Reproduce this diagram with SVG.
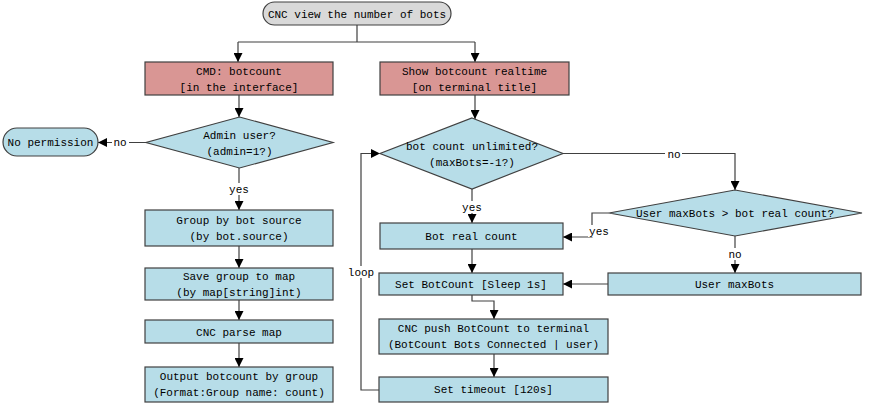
<svg xmlns="http://www.w3.org/2000/svg" width="877" height="405" viewBox="0 0 877 405">
<defs>
<marker id="ah" viewBox="0 0 10 10" refX="10" refY="5" markerWidth="9" markerHeight="9" markerUnits="userSpaceOnUse" orient="auto"><path d="M0,0 L10,5 L0,10 Z" fill="#000"/></marker>
</defs>
<style>
text{font-family:"Liberation Mono","DejaVu Sans Mono",monospace;font-size:11px;fill:#000;text-anchor:middle}
.red{fill:#d99694;stroke:#404040;stroke-width:1.2}
.blue{fill:#b7dde8;stroke:#404040;stroke-width:1.2}
.gray{fill:#d9d9d9;stroke:#404040;stroke-width:1.2}
.c{fill:none;stroke:#404040;stroke-width:1.2}
.a{marker-end:url(#ah)}
.lbl{fill:#fff}
</style>
<rect width="877" height="405" fill="#fff"/>
<g id="connectors">
<path class="c" d="M357,25 V42 M238,42 H475"/>
<path class="c a" d="M238,42 V62"/>
<path class="c a" d="M475,42 V62"/>
<path class="c a" d="M239,95 V117"/>
<path class="c a" d="M146,142.5 H98"/>
<path class="c a" d="M239,168 V210"/>
<path class="c a" d="M239,246 V268"/>
<path class="c a" d="M239,300 V320"/>
<path class="c a" d="M239,343 V367"/>
<path class="c a" d="M475,95 V119"/>
<path class="c a" d="M563,153.5 H735 V190"/>
<path class="c a" d="M472,189 V223"/>
<path class="c a" d="M609,213 H592 V237 H563"/>
<path class="c a" d="M735,236 V273"/>
<path class="c a" d="M472,249 V273"/>
<path class="c a" d="M608,284 H563"/>
<path class="c a" d="M472,295 V301 H494 V319"/>
<path class="c a" d="M494,354 V377"/>
<path class="c a" d="M379,390 H361 V153.5 H380"/>
<rect class="lbl" x="112" y="136" width="17" height="12"/>
<text x="120" y="146">no</text>
<rect class="lbl" x="228" y="183" width="22" height="12"/>
<text x="239" y="193">yes</text>
<rect class="lbl" x="665" y="148" width="17" height="12"/>
<text x="674" y="158">no</text>
<rect class="lbl" x="461" y="201" width="22" height="12"/>
<text x="472" y="211">yes</text>
<rect class="lbl" x="588" y="225" width="22" height="12"/>
<text x="599" y="235">yes</text>
<rect class="lbl" x="727" y="248" width="17" height="12"/>
<text x="735" y="258">no</text>
<rect class="lbl" x="348" y="266" width="26" height="12"/>
<text x="361" y="276">loop</text>
</g>
<g id="start"><rect class="gray" x="263" y="2" width="188" height="23" rx="11.5"/><text x="357" y="17.5">CNC view the number of bots</text></g>
<g id="cmd"><rect class="red" x="145" y="62" width="188" height="33"/><text x="239" y="75">CMD: botcount</text><text x="239" y="91">[in the interface]</text></g>
<g id="show"><rect class="red" x="380" y="62" width="189" height="33"/><text x="474.5" y="75">Show botcount realtime</text><text x="474.5" y="91">[on terminal title]</text></g>
<g id="admin"><polygon class="blue" points="239.5,117 333,142.5 239.5,168 146,142.5"/><text x="239.5" y="139">Admin user?</text><text x="239.5" y="155">(admin=1?)</text></g>
<g id="noperm"><rect class="blue" x="3" y="128" width="95" height="28" rx="14"/><text x="50.5" y="146">No permission</text></g>
<g id="group"><rect class="blue" x="145" y="210" width="188" height="36"/><text x="239" y="224">Group by bot source</text><text x="239" y="240">(by bot.source)</text></g>
<g id="save"><rect class="blue" x="145" y="268" width="188" height="32"/><text x="239" y="280">Save group to map</text><text x="239" y="296">(by map[string]int)</text></g>
<g id="parse"><rect class="blue" x="145" y="320" width="188" height="23"/><text x="239" y="335.5">CNC parse map</text></g>
<g id="output"><rect class="blue" x="145" y="367" width="188" height="35"/><text x="239" y="380">Output botcount by group</text><text x="239" y="396">(Format:Group name: count)</text></g>
<g id="unlimited"><polygon class="blue" points="472,118 563,153.5 472,189 380,153.5"/><text x="472" y="150">bot count unlimited?</text><text x="472" y="166">(maxBots=-1?)</text></g>
<g id="compare"><polygon class="blue" points="735,190 862,213 735,236 609,213"/><text x="735" y="216.5">User maxBots &gt; bot real count?</text></g>
<g id="realcount"><rect class="blue" x="380" y="223" width="183" height="26"/><text x="471.5" y="240">Bot real count</text></g>
<g id="setcount"><rect class="blue" x="379" y="273" width="184" height="22"/><text x="471" y="288">Set BotCount [Sleep 1s]</text></g>
<g id="usermax"><rect class="blue" x="608" y="273" width="253" height="22"/><text x="734.5" y="288">User maxBots</text></g>
<g id="push"><rect class="blue" x="379" y="319" width="229" height="35"/><text x="493.5" y="332">CNC push BotCount to terminal</text><text x="493.5" y="348">(BotCount Bots Connected | user)</text></g>
<g id="timeout"><rect class="blue" x="379" y="377" width="229" height="25"/><text x="493.5" y="393">Set timeout [120s]</text></g>
</svg>
